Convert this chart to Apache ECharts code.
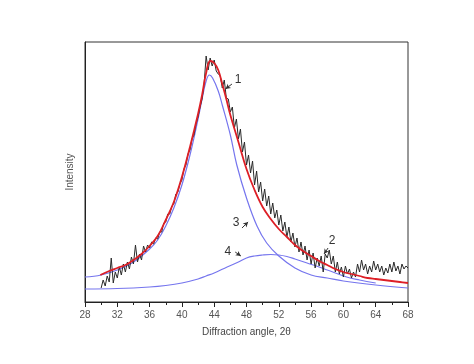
<!DOCTYPE html>
<html>
<head>
<meta charset="utf-8">
<script src="https://cdn.jsdelivr.net/npm/echarts@6/dist/echarts.min.js"></script>
<style>html,body{margin:0;padding:0;background:#fff}#c{width:474px;height:364px}</style>
</head>
<body>
<div id="c"></div>
<script>
// Measured diffraction data (2θ, intensity in arbitrary units)
var measured = [[30,14],[30.25,22],[30.5,16],[30.75,26],[31,20],[31.25,44],[31.5,19],[31.75,30],[32,24],[32.25,35],[32.5,27],[32.75,38],[33,30],[33.25,40],[33.5,33],[33.75,45],[34,38],[34.25,57],[34.5,40],[34.75,48],[35,42],[35.25,56],[35.5,50],[35.75,57],[36,54],[36.25,60],[36.5,58],[36.75,64],[37,63],[37.25,70],[37.5,70],[37.75,79],[38,80],[38.25,88],[38.5,88],[38.75,96],[39,98],[39.25,108],[39.5,110],[39.75,118],[40,122],[40.25,133],[40.5,137],[40.75,148],[41,152],[41.25,163],[41.5,167],[41.75,178],[42,185],[42.25,195],[42.5,203],[42.75,218],[43,246],[43.25,232],[43.5,244],[43.75,236],[44,242],[44.25,231],[44.5,228],[44.75,226],[45,214],[45.25,222],[45.5,204],[45.75,203],[46,190],[46.25,195],[46.5,174],[46.75,183],[47,163],[47.25,173],[47.5,150],[47.75,160],[48,137],[48.25,147],[48.5,129],[48.75,141],[49,117],[49.25,131],[49.5,110],[49.75,120],[50,101],[50.25,113],[50.5,96],[50.75,106],[51,88],[51.25,99],[51.5,84],[51.75,92],[52,77],[52.25,87],[52.5,71],[52.75,80],[53,65],[53.25,75],[53.5,60],[53.75,69],[54,55],[54.25,64],[54.5,50],[54.75,60],[55,47],[55.25,56],[55.5,42],[55.75,52],[56,38],[56.25,49],[56.5,34],[56.75,44],[57,36],[57.25,46],[57.5,30],[57.75,48],[58,44],[58.25,52],[58.5,38],[58.75,46],[59,30],[59.25,40],[59.5,28],[59.75,35],[60,25],[60.25,36],[60.5,28],[60.75,33],[61,24],[61.25,30],[61.5,25],[61.75,38],[62,30],[62.25,42],[62.5,32],[62.75,38],[63,28],[63.25,36],[63.5,30],[63.75,41],[64,32],[64.25,38],[64.5,30],[64.75,36],[65,27],[65.25,34],[65.5,29],[65.75,38],[66,30],[66.25,40],[66.5,31],[66.75,36],[67,28],[67.25,38],[67.5,33],[67.75,36],[68,34]];

// Total fit (curve 2)
var fitTotal = [[29.9,27],[31,31],[32,34],[33,37],[34,42],[35,48],[36,56],[37,66],[38,82],[39,100],[40,125],[41,155],[42,188],[42.5,207],[43,229],[43.5,241],[44,239],[44.5,232],[45,218],[45.5,203],[46,187],[47,160],[48,133],[49,112],[50,95],[51,83],[52,73],[53,65],[54,57],[55,51],[56,46],[57,41],[58,37],[59,33],[60,30],[61,28],[62,26],[63,24],[64,23],[65,22],[66,21],[67,20],[68,19]];

// Component peak (curve 3)
var peak3 = [[28,25],[30,27],[32,32],[34,40],[36,53],[37,62],[38,76],[39,94],[40,117],[41,147],[42,183],[42.5,203],[43,221],[43.4,227],[43.8,224],[44.5,211],[45,197],[46,167],[46.8,137],[48,104],[49.3,76],[50.5,59],[52,46],[54,34],[56,27],[58,24],[60,21],[64,17],[68,14]];

// Component peak (curve 4)
var peak4 = [[28,13],[32,13.5],[36,15],[38,16.5],[40,19],[42,23],[43,26],[44,29],[45.6,35],[47,40],[48,44],[49,46],[50,47],[51,47.5],[52,47],[53,45.5],[54,43],[55.5,39],[57,35],[58,32],[60.4,25],[62,22],[64,19]];

// Curve labels and arrows (data coordinates)
var labelTexts = ['1','2','3','4'];
var labelPos = [[46.95,222],[58.6,61],[46.7,79],[45.7,50]];
var arrowFrom = [[46.2,218],[58.1,54],[47.44,74],[46.6,50]];
var arrowTo = [[45.4,213],[57.6,48],[48.2,80],[47.3,46]];

var xTicks = {min:28, max:68, interval:4};

var chart = echarts.init(document.getElementById('c'));
var markPts = labelTexts.map(function(t,i){
  return {coord: labelPos[i], value: t, symbol:'circle', symbolSize:1,
          itemStyle:{color:'rgba(0,0,0,0)'},
          label:{show:true, formatter:t, position:'inside', color:'#333', fontSize:12, fontFamily:'Liberation Sans, Arial'}};
});
var markLns = labelTexts.map(function(t,i){
  return [{coord: arrowFrom[i]}, {coord: arrowTo[i]}];
});

chart.setOption({
  animation:false,
  grid:{left:85, right:66, top:42, bottom:62, show:true, borderColor:'#333', borderWidth:1, backgroundColor:'transparent'},
  xAxis:{type:'value', min:xTicks.min, max:xTicks.max, interval:xTicks.interval,
    name:'Diffraction angle, 2θ', nameLocation:'middle', nameGap:25,
    nameTextStyle:{color:'#444', fontSize:10, fontFamily:'Liberation Sans, Arial'},
    axisLine:{show:true, lineStyle:{color:'#222', width:1}},
    axisTick:{show:true, length:5, lineStyle:{color:'#222'}},
    minorTick:{show:true, splitNumber:2, length:3, lineStyle:{color:'#222'}},
    splitLine:{show:false},
    axisLabel:{color:'#555', fontSize:10, margin:8, fontFamily:'Liberation Sans, Arial'}},
  yAxis:{type:'value', min:0, max:260,
    name:'Intensity', nameLocation:'middle', nameGap:10,
    nameTextStyle:{color:'#555', fontSize:10, fontFamily:'Liberation Sans, Arial'},
    axisLine:{show:true, lineStyle:{color:'#222'}}, axisTick:{show:false},
    axisLabel:{show:false}, splitLine:{show:false}},
  series:[
    {type:'line', data:peak4, showSymbol:false, smooth:0.4, lineStyle:{color:'#7575ee', width:1.2}, z:2},
    {type:'line', data:peak3, showSymbol:false, smooth:0.4, lineStyle:{color:'#7575ee', width:1.2}, z:2},
    {type:'line', data:measured, showSymbol:false, lineStyle:{color:'#2a2a2a', width:1}, z:3,
      markPoint:{data:markPts, silent:true},
      markLine:{silent:true, symbol:['none','arrow'], symbolSize:[4,5], label:{show:false},
        lineStyle:{color:'#333', width:1, type:'solid'}, data:markLns}},
    {type:'line', data:fitTotal, showSymbol:false, smooth:0.4, lineStyle:{color:'#dd1f26', width:1.8}, z:4}
  ]
});
</script>
</body>
</html>
